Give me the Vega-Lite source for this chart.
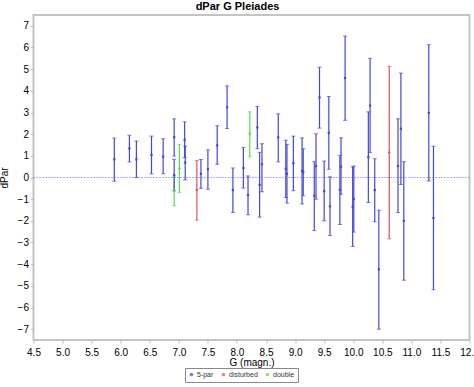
{
  "$schema": "https://vega.github.io/schema/vega-lite/v6.json",
  "autosize": {"type": "none"},
  "width": 436,
  "height": 325,
  "padding": {"left": 33.5, "top": 15, "right": 4.5, "bottom": 47},
  "title": {"text": "dPar G Pleiades", "font": "Liberation Sans", "fontSize": 11, "fontWeight": "bold", "color": "#000000", "offset": 3, "dx": -14},
  "config": {
    "view": {"stroke": "#c4c4c4", "strokeWidth": 2},
    "axis": {"labelFont": "Liberation Sans", "titleFont": "Liberation Sans", "labelFontSize": 10, "titleFontSize": 10, "titleFontWeight": "normal", "labelColor": "#000000", "titleColor": "#000000", "domain": false, "grid": false, "tickColor": "#bbbbbb", "tickSize": 3}
  },
  "encoding": {
    "y": {"type": "quantitative", "scale": {"domain": [-7.5, 7.5], "nice": false, "zero": false},
          "axis": {"title": "dPar", "values": [-7, -6, -5, -4, -3, -2, -1, 0, 1, 2, 3, 4, 5, 6, 7], "format": "d", "labelPadding": 2, "titlePadding": 8, "labelOverlap": false, "labelBound": false, "labelFlush": false}}
  },
  "layer": [
    {
      "data": {"values": [{"zero": 0}]},
      "mark": {"type": "rule", "color": "#5a5aff", "strokeDash": [1, 2], "strokeWidth": 1},
      "encoding": {"y": {"field": "zero", "type": "quantitative"}}
    },
    {
      "data": {"name": "stars"},
      "layer": [
        {"mark": {"type": "rule", "strokeWidth": 1.2}, "encoding": {"y": {"field": "lo", "type": "quantitative"}, "y2": {"field": "hi"}}},
        {"mark": {"type": "tick", "orient": "horizontal", "size": 4, "thickness": 1}, "encoding": {"y": {"field": "lo", "type": "quantitative"}}},
        {"mark": {"type": "tick", "orient": "horizontal", "size": 4, "thickness": 1}, "encoding": {"y": {"field": "hi", "type": "quantitative"}}},
        {"mark": {"type": "square", "size": 5, "filled": true, "opacity": 1}, "encoding": {"y": {"field": "v", "type": "quantitative"}}}
      ],
      "encoding": {
        "x": {"field": "G", "type": "quantitative", "scale": {"domain": [4.5, 12.0], "nice": false, "zero": false},
              "axis": {"title": "G (magn.)", "values": [4.5, 5, 5.5, 6, 6.5, 7, 7.5, 8, 8.5, 9, 9.5, 10, 10.5, 11, 11.5, 12], "format": ".1f", "labelPadding": 4, "titlePadding": 0, "labelFlush": false, "labelOverlap": false, "labelBound": false}},
        "color": {"field": "type", "type": "nominal",
                  "scale": {"domain": ["5-par", "disturbed", "double"], "range": ["#4646dc", "#e05555", "#55dd55"]},
                  "legend": {"orient": "none", "legendX": 151.5, "legendY": 353, "direction": "horizontal", "title": null,
                             "strokeColor": "#888888", "padding": 3, "labelFont": "Liberation Sans", "labelFontSize": 7, "labelColor": "#333333",
                             "symbolType": "circle", "symbolSize": 5, "columnPadding": 5, "labelOffset": 2, "symbolOffset": 0, "gridAlign": "none"}}
      }
    }
  ],
  "datasets": {
    "stars": [
      {"G": 5.89, "v": 0.84, "lo": -0.17, "hi": 1.82, "type": "5-par"},
      {"G": 6.15, "v": 1.34, "lo": 0.72, "hi": 1.95, "type": "5-par"},
      {"G": 6.27, "v": 0.84, "lo": 0.0, "hi": 1.68, "type": "5-par"},
      {"G": 6.53, "v": 1.04, "lo": 0.17, "hi": 1.91, "type": "5-par"},
      {"G": 6.73, "v": 0.96, "lo": 0.18, "hi": 1.79, "type": "5-par"},
      {"G": 6.92, "v": 1.86, "lo": 0.99, "hi": 2.71, "type": "5-par"},
      {"G": 6.92, "v": -0.61, "lo": -1.3, "hi": 0.07, "type": "double"},
      {"G": 6.92, "v": 0.11, "lo": -0.61, "hi": 0.84, "type": "5-par"},
      {"G": 7.01, "v": 0.41, "lo": -0.69, "hi": 1.53, "type": "double"},
      {"G": 7.1, "v": 1.74, "lo": 0.92, "hi": 2.57, "type": "5-par"},
      {"G": 7.11, "v": 0.69, "lo": -0.11, "hi": 1.45, "type": "5-par"},
      {"G": 7.31, "v": -0.57, "lo": -1.97, "hi": 0.78, "type": "disturbed"},
      {"G": 7.38, "v": 0.17, "lo": -0.5, "hi": 0.83, "type": "5-par"},
      {"G": 7.5, "v": 0.38, "lo": -0.54, "hi": 1.28, "type": "5-par"},
      {"G": 7.66, "v": 1.48, "lo": 0.61, "hi": 2.39, "type": "5-par"},
      {"G": 7.83, "v": 3.24, "lo": 2.26, "hi": 4.23, "type": "5-par"},
      {"G": 7.93, "v": -0.58, "lo": -1.61, "hi": 0.44, "type": "5-par"},
      {"G": 8.11, "v": 0.44, "lo": -0.49, "hi": 1.38, "type": "5-par"},
      {"G": 8.19, "v": -0.81, "lo": -1.72, "hi": 0.07, "type": "5-par"},
      {"G": 8.22, "v": 2.02, "lo": 0.96, "hi": 3.03, "type": "double"},
      {"G": 8.35, "v": 2.31, "lo": 1.33, "hi": 3.28, "type": "5-par"},
      {"G": 8.39, "v": -0.34, "lo": -1.83, "hi": 1.16, "type": "5-par"},
      {"G": 8.43, "v": 0.61, "lo": -0.66, "hi": 1.56, "type": "5-par"},
      {"G": 8.71, "v": 1.85, "lo": 0.72, "hi": 2.94, "type": "5-par"},
      {"G": 8.84, "v": 0.4, "lo": -0.92, "hi": 1.72, "type": "5-par"},
      {"G": 8.86, "v": 0.17, "lo": -1.18, "hi": 1.53, "type": "5-par"},
      {"G": 8.97, "v": 0.66, "lo": -0.61, "hi": 1.91, "type": "5-par"},
      {"G": 9.12, "v": 0.3, "lo": -1.22, "hi": 1.83, "type": "5-par"},
      {"G": 9.14, "v": 0.24, "lo": -0.84, "hi": 1.33, "type": "5-par"},
      {"G": 9.33, "v": -0.84, "lo": -2.45, "hi": 0.73, "type": "5-par"},
      {"G": 9.36, "v": 0.53, "lo": -1.0, "hi": 2.02, "type": "5-par"},
      {"G": 9.42, "v": 3.7, "lo": 2.28, "hi": 5.09, "type": "5-par"},
      {"G": 9.5, "v": -0.63, "lo": -2.0, "hi": 0.76, "type": "5-par"},
      {"G": 9.58, "v": 2.06, "lo": 0.38, "hi": 3.74, "type": "5-par"},
      {"G": 9.6, "v": -1.33, "lo": -2.68, "hi": 0.03, "type": "5-par"},
      {"G": 9.77, "v": -0.57, "lo": -2.17, "hi": 1.02, "type": "5-par"},
      {"G": 9.79, "v": 0.5, "lo": -0.77, "hi": 1.83, "type": "5-par"},
      {"G": 9.86, "v": 4.59, "lo": 2.64, "hi": 6.53, "type": "5-par"},
      {"G": 9.99, "v": -1.35, "lo": -3.18, "hi": 0.49, "type": "5-par"},
      {"G": 10.01, "v": -1.0, "lo": -2.52, "hi": 0.53, "type": "5-par"},
      {"G": 10.26, "v": 0.94, "lo": -1.15, "hi": 3.03, "type": "5-par"},
      {"G": 10.29, "v": 3.32, "lo": 1.15, "hi": 5.5, "type": "5-par"},
      {"G": 10.37, "v": -0.58, "lo": -2.04, "hi": 0.87, "type": "5-par"},
      {"G": 10.44, "v": -4.24, "lo": -7.0, "hi": -1.51, "type": "5-par"},
      {"G": 10.62, "v": 1.15, "lo": -2.83, "hi": 5.12, "type": "disturbed"},
      {"G": 10.77, "v": 0.53, "lo": -1.62, "hi": 2.71, "type": "5-par"},
      {"G": 10.82, "v": 2.25, "lo": -0.32, "hi": 4.82, "type": "5-par"},
      {"G": 10.87, "v": -2.0, "lo": -4.74, "hi": 0.73, "type": "5-par"},
      {"G": 11.3, "v": 2.98, "lo": -0.16, "hi": 6.13, "type": "5-par"},
      {"G": 11.38, "v": -1.87, "lo": -5.18, "hi": 1.44, "type": "5-par"}
    ]
  }
}
